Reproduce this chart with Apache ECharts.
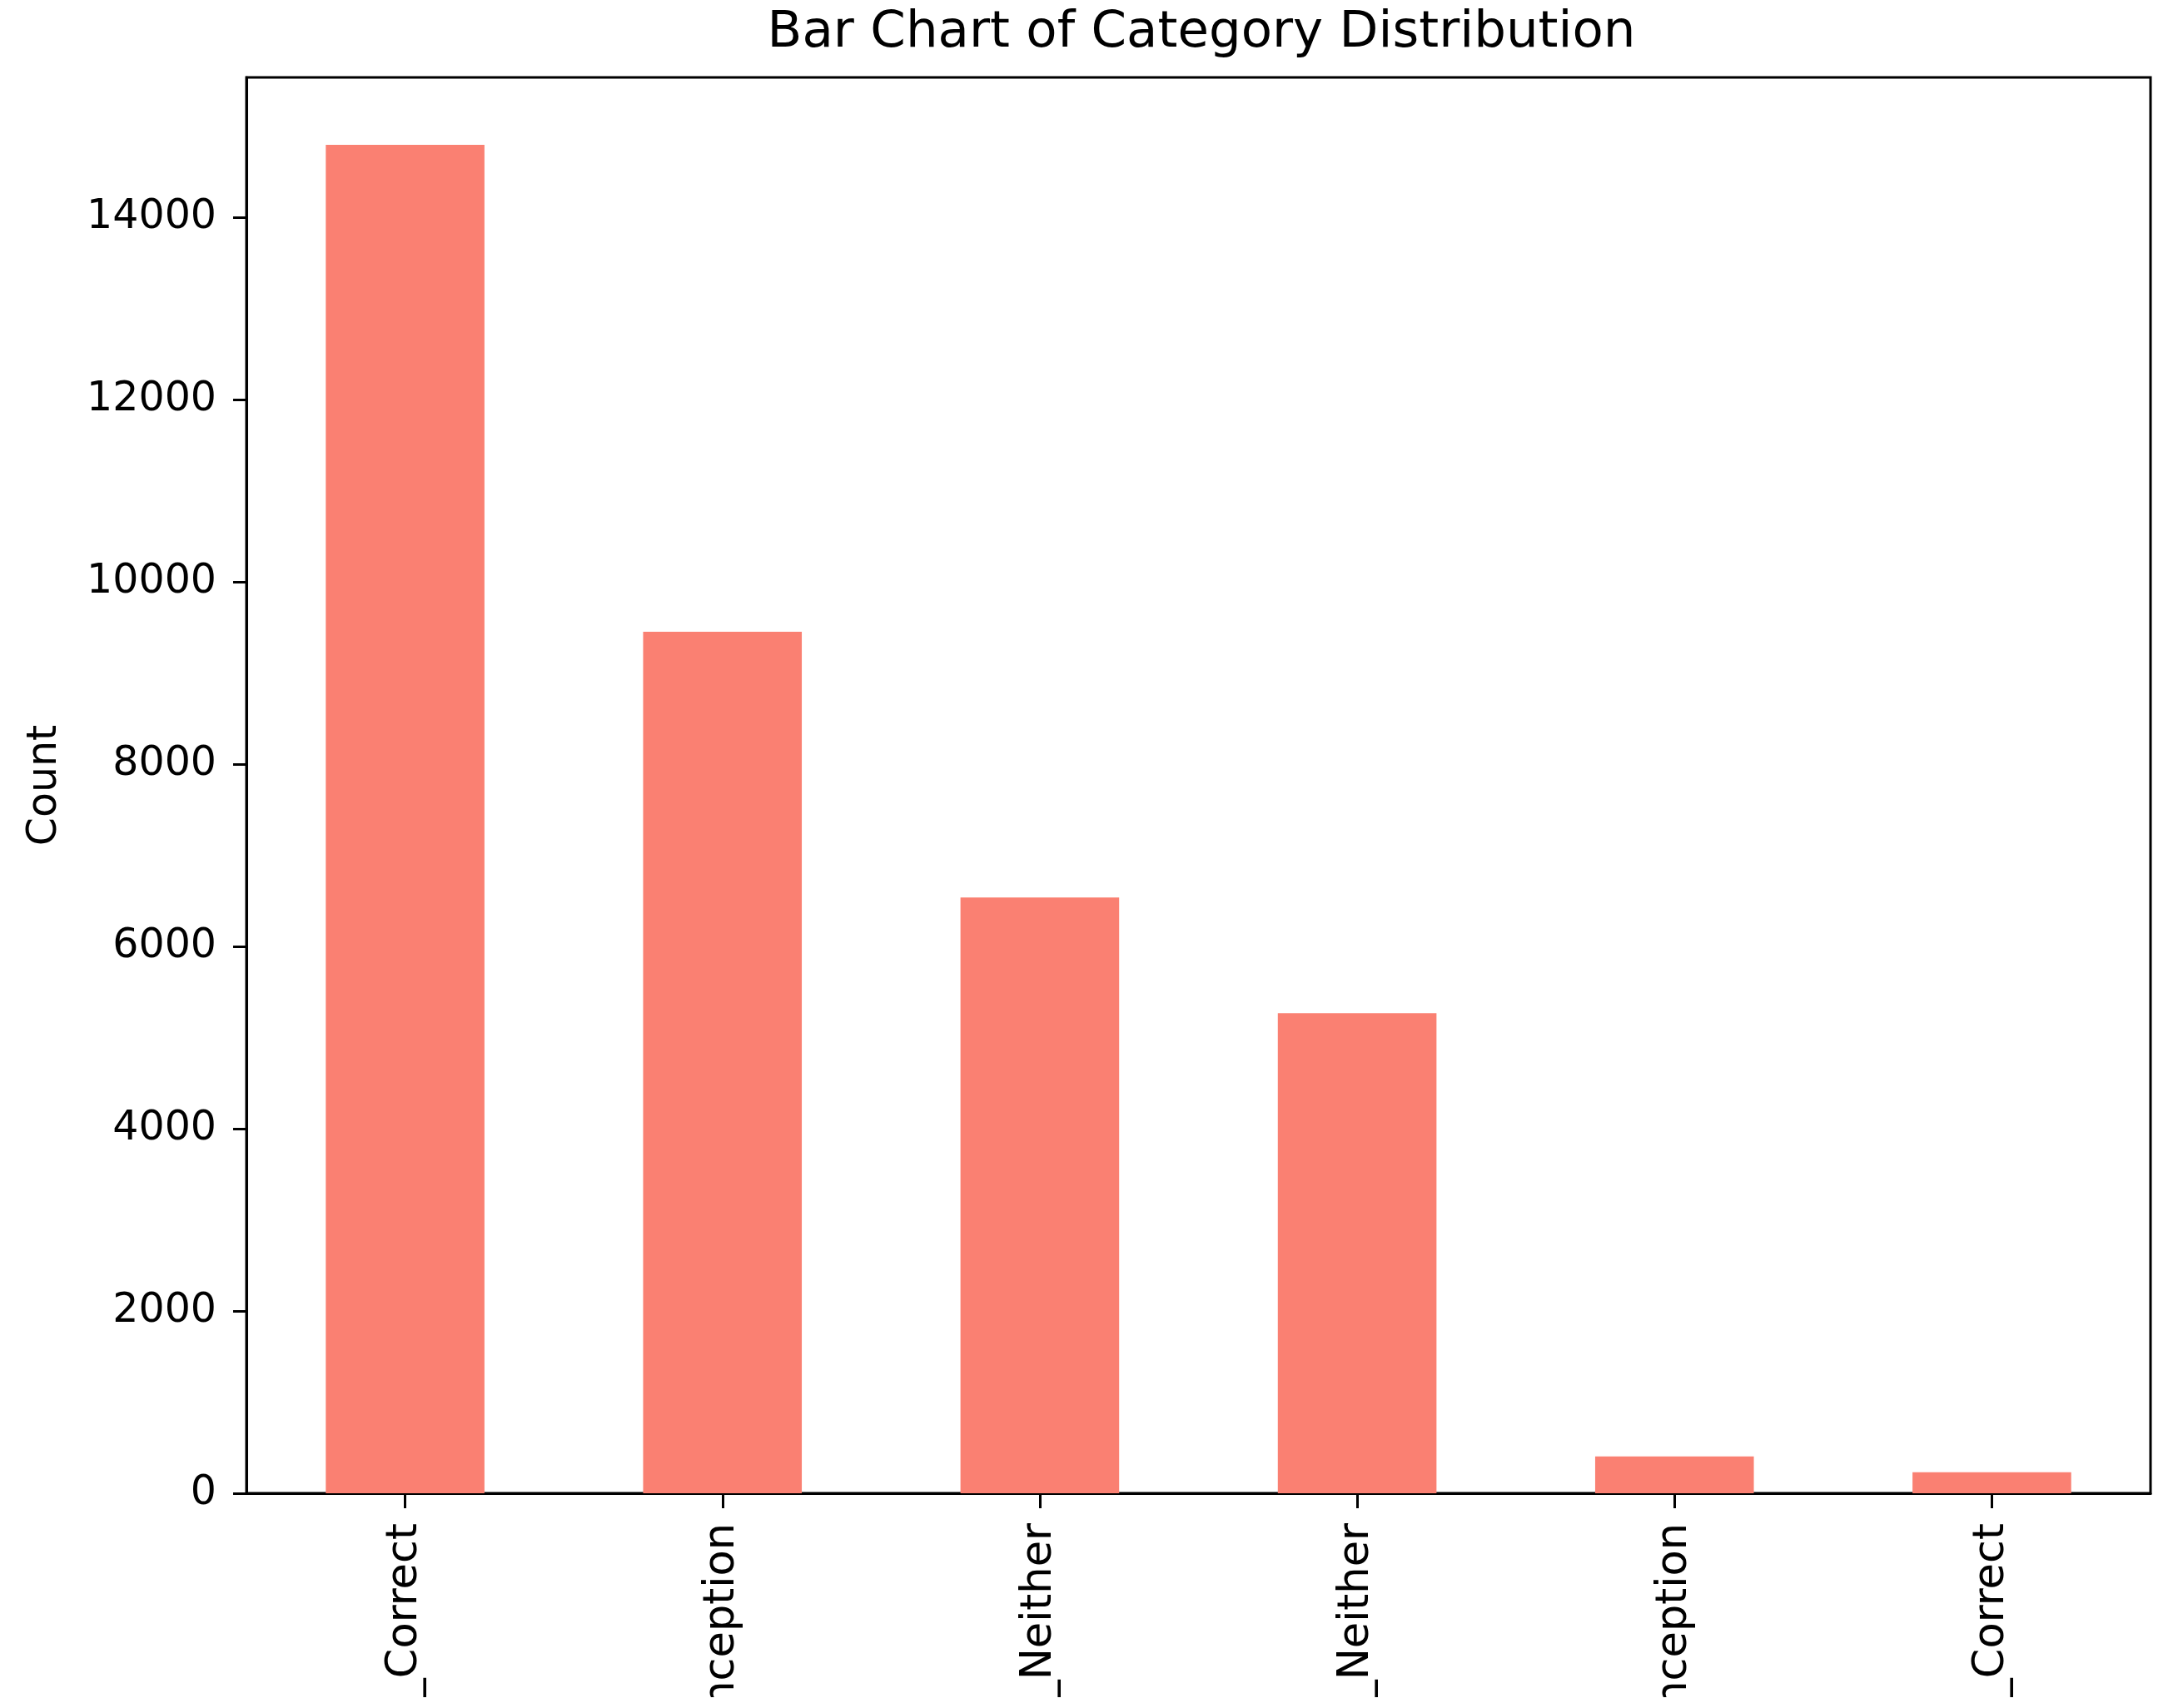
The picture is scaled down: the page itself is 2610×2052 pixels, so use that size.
<!DOCTYPE html>
<html>
<head>
<meta charset="utf-8">
<title>Bar Chart of Category Distribution</title>
<script src="https://cdn.jsdelivr.net/npm/echarts@6/dist/echarts.min.js"></script>
<style>
  html, body { margin: 0; padding: 0; background: #fff; }
  #chart { width: 2610px; height: 2052px; }
</style>
</head>
<body>
<div id="chart"></div>
<script>
// data
var categories = ['True_Correct', 'False_Misconception', 'False_Neither', 'True_Neither', 'True_Misconception', 'False_Correct'];
var counts = [14800, 9455, 6540, 5270, 405, 230];
var yTicks = [0, 2000, 4000, 6000, 8000, 10000, 12000, 14000];
var yMax = 15540;

var font = 'DejaVu Sans';

var option = {
    backgroundColor: '#fff',
    animation: false,
    title: {
        text: 'Bar Chart of Category Distribution',
        left: 1438,
        top: 5,
        textAlign: 'center',
        textStyle: { fontFamily: font, fontSize: 61, fontWeight: 'normal', color: '#000' }
    },
    grid: {
        left: 296,
        top: 93,
        right: 27,
        bottom: 258,
        outerBoundsMode: 'none',
        containLabel: false,
        show: true,
        borderColor: '#000',
        borderWidth: 3,
        backgroundColor: 'transparent'
    },
    xAxis: {
        type: 'category',
        data: categories,
        axisLine: { show: true, lineStyle: { color: '#000', width: 3 } },
        axisTick: { show: true, alignWithLabel: true, length: 18, lineStyle: { color: '#000', width: 3 } },
        axisLabel: {
            rotate: 90,
            margin: 36,
            interval: 0,
            fontFamily: font,
            fontSize: 51,
            color: '#000'
        },
        splitLine: { show: false }
    },
    yAxis: {
        type: 'value',
        min: 0,
        max: yMax,
        interval: 2000,
        name: 'Count',
        nameLocation: 'middle',
        nameRotate: 90,
        nameGap: 217,
        nameTextStyle: { fontFamily: font, fontSize: 49, color: '#000' },
        axisLine: { show: true, lineStyle: { color: '#000', width: 3 } },
        axisTick: { show: true, length: 16, customValues: yTicks, lineStyle: { color: '#000', width: 3 } },
        axisLabel: {
            margin: 36,
            customValues: yTicks,
            formatter: function (v) { return String(v); },
            fontFamily: font,
            fontSize: 49,
            color: '#000'
        },
        splitLine: { show: false }
    },
    // the source picture is cut just above its bottom edge
    graphic: [{
        type: 'rect',
        left: 0,
        top: 2039,
        shape: { width: 2610, height: 13 },
        style: { fill: '#fff' },
        z: 100
    }],
    series: [{
        name: 'Count',
        type: 'bar',
        data: counts,
        barWidth: '50%',
        itemStyle: { color: '#FA8072' }
    }]
};

var myChart = echarts.init(document.getElementById('chart'));
myChart.setOption(option);
</script>
</body>
</html>
